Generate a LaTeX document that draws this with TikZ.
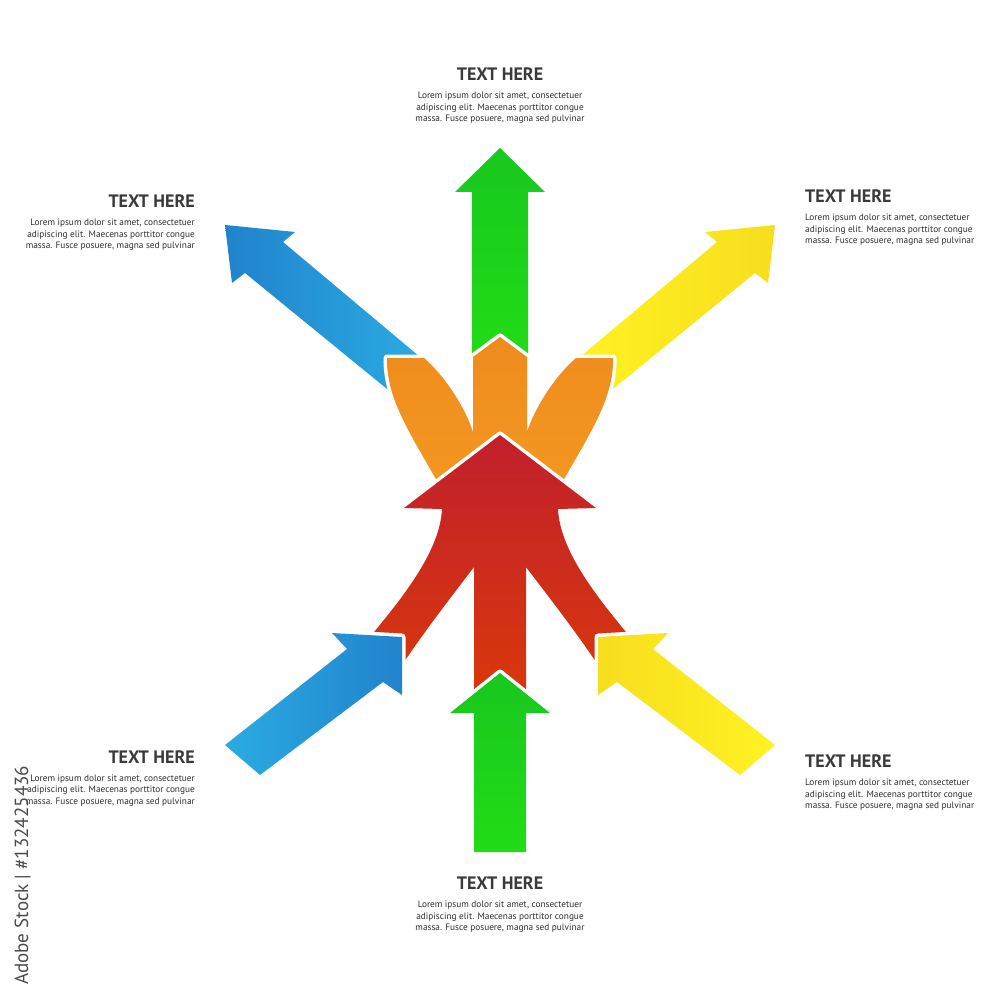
\documentclass[tikz,border=0pt]{standalone}
\usepackage{fontspec}
\setmainfont{PT Sans}
\definecolor{grnA}{HTML}{18C81E}
\definecolor{grnB}{HTML}{22DC16}
\definecolor{blueD}{HTML}{2183CC}
\definecolor{blueL}{HTML}{2AABE2}
\definecolor{yelD}{HTML}{F7DE1E}
\definecolor{yelL}{HTML}{FFF222}
\definecolor{orgA}{HTML}{EE8C1D}
\definecolor{orgB}{HTML}{F59722}
\definecolor{redA}{HTML}{C1202D}
\definecolor{redB}{HTML}{D9380B}
\definecolor{txtH}{HTML}{3A3A3A}
\definecolor{txtB}{HTML}{2E2E2E}
\definecolor{wmc}{HTML}{4A4A4A}
\begin{document}
\begin{tikzpicture}[x=1pt,y=-1pt,
  halo/.style={preaction={draw=white,line width=7pt,line join=round}},
  hd/.style={font=\fontsize{18}{20}\selectfont\bfseries, text=txtH, inner sep=0pt},
  bd/.style={font=\fontsize{9.3}{11.5}\selectfont, text=txtB, inner sep=0pt}]
\useasboundingbox (0,0) rectangle (1000,1000);
\fill[white] (0,0) rectangle (1000,1000);

% outgoing arrows (under the orange)
\shade[left color=blueD, middle color=blueL, right color=blueL]
  (225,225) -- (295,232) -- (283,242) -- (426,362) -- (392,393) -- (245,273) -- (232,283) -- cycle;
\shade[left color=yelL, middle color=yelL, right color=yelD]
  (775,225) -- (705,232) -- (717,242) -- (574,362) -- (608,393) -- (755,273) -- (768,283) -- cycle;
\shade[top color=grnA, bottom color=grnB]
  (500,148) -- (545,192) -- (528,192) -- (528,366) -- (472,366) -- (472,192) -- (455,192) -- cycle;

% orange fan
\shade[halo, top color=orgA, bottom color=orgB]
  (387,358) -- (424,358) .. controls (447,378) and (466,410) .. (473,432)
  -- (473,357) -- (500,337) -- (527,357) -- (527,432)
  .. controls (534,410) and (553,378) .. (576,358) -- (613,358)
  .. controls (614,402) and (585,440) .. (557,492) -- (443,492)
  .. controls (415,440) and (386,402) .. (387,358) -- cycle;

% red merging arrow
\shade[halo, top color=redA, middle color=redB, bottom color=redB]
  (500,435) -- (596,508) -- (558,509)
  .. controls (560,550) and (595,595) .. (631,638) -- (602,641) -- (600,668)
  .. controls (575,630) and (538,583) .. (526,567)
  -- (526,697) -- (500,680) -- (474,697) -- (474,567)
  .. controls (462,583) and (425,630) .. (400,668) -- (398,641) -- (369,638)
  .. controls (405,595) and (440,550) .. (442,509) -- (404,508) -- cycle;

% incoming arrows (over the red)
\shade[halo, left color=blueL, middle color=blueL, right color=blueD]
  (402,637) -- (402,695) -- (383,682) -- (260,775) -- (225,745) -- (347,649) -- (332,633) -- cycle;
\shade[halo, left color=yelD, middle color=yelL, right color=yelL]
  (598,637) -- (598,695) -- (617,682) -- (740,775) -- (775,745) -- (653,649) -- (668,633) -- cycle;
\shade[halo, top color=grnA, bottom color=grnB]
  (500,673) -- (550,713) -- (526,713) -- (526,852) -- (474,852) -- (474,713) -- (450,713) -- cycle;

% texts
\node[hd, anchor=base] (h1) at (500,81) {TEXT HERE};
\node[bd, anchor=north, align=center] (b1) at (500,92)
  {Lorem ipsum dolor sit amet, consectetuer\\adipiscing elit. Maecenas porttitor congue\\massa. Fusce posuere, magna sed pulvinar};

\node[hd, anchor=base east] (h2) at (195,207.5) {TEXT HERE};
\node[bd, anchor=north east, align=right] (b2) at (195,219)
  {Lorem ipsum dolor sit amet, consectetuer\\adipiscing elit. Maecenas porttitor congue\\massa. Fusce posuere, magna sed pulvinar};

\node[hd, anchor=base west] (h3) at (805,202.5) {TEXT HERE};
\node[bd, anchor=north west, align=left] (b3) at (805,214)
  {Lorem ipsum dolor sit amet, consectetuer\\adipiscing elit. Maecenas porttitor congue\\massa. Fusce posuere, magna sed pulvinar};

\node[hd, anchor=base east] (h4) at (195,763) {TEXT HERE};
\node[bd, anchor=north east, align=right] (b4) at (195,774.5)
  {Lorem ipsum dolor sit amet, consectetuer\\adipiscing elit. Maecenas porttitor congue\\massa. Fusce posuere, magna sed pulvinar};

\node[hd, anchor=base west] (h5) at (805,767.5) {TEXT HERE};
\node[bd, anchor=north west, align=left] (b5) at (805,779)
  {Lorem ipsum dolor sit amet, consectetuer\\adipiscing elit. Maecenas porttitor congue\\massa. Fusce posuere, magna sed pulvinar};

\node[hd, anchor=base] (h6) at (500,889.5) {TEXT HERE};
\node[bd, anchor=north, align=center] (b6) at (500,901)
  {Lorem ipsum dolor sit amet, consectetuer\\adipiscing elit. Maecenas porttitor congue\\massa. Fusce posuere, magna sed pulvinar};

\node[font=\fontsize{19}{22}\selectfont, text=wmc, rotate=90, anchor=base west, inner sep=0pt] (wm) at (28,985) {Adobe Stock | \#132425436};
\end{tikzpicture}
\end{document}
